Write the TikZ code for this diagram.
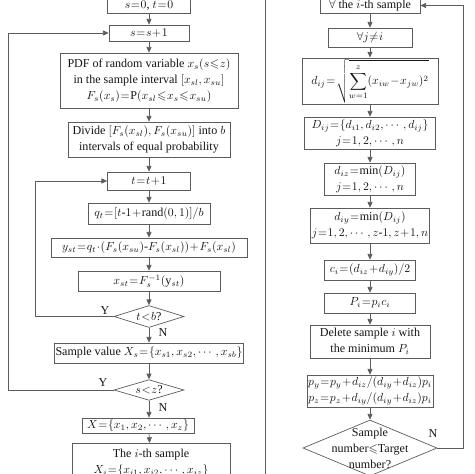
\documentclass[tikz,border=0pt]{standalone}
\usepackage{amsmath}
\usepackage{amssymb}
\usepackage{fontspec}
\setmainfont{Liberation Serif}
\usepackage{tikz}
\usetikzlibrary{arrows.meta,shapes.geometric}
\definecolor{FlowLine}{HTML}{5C5C5C}
\definecolor{FlowInk}{HTML}{151515}
\thickmuskip=1mu plus 1mu
\medmuskip=1mu plus 1mu

\begin{document}
\begin{tikzpicture}[x=0.03cm, y=-0.03cm, font=\fontsize{10.3}{13.6}\selectfont, text=FlowInk,
  box/.style={draw=FlowLine, line width=0.6pt, align=center, inner sep=1pt},
  test/.style={draw=FlowLine, line width=0.6pt, diamond, aspect=3.3, inner sep=0pt, align=center},
  arr/.style={FlowLine, line width=0.6pt, -{Triangle[length=1.7mm,width=1.5mm]}}]
  \useasboundingbox (0,0) rectangle (474,474);
  % left column: sampling of each variable
  \node[box, minimum width=2.49cm, minimum height=0.45cm] (init) at (149,5.5) {$s=0$, $t=0$};
  \node[box, minimum width=2.40cm, minimum height=0.48cm] (sinc) at (149,33) {$s=s+1$};
  \node[box, minimum width=5.34cm, minimum height=1.65cm] (pdf) at (149,80.5)
    {PDF of random variable $x_s(s\leqslant z)$\\in the sample interval $[x_{sl},x_{su}]$\\$F_s(x_s)=\mathrm{P}(x_{sl}\leqslant x_s\leqslant x_{su})$};
  \node[box, minimum width=4.86cm, minimum height=1.05cm] (divide) at (149,139.5)
    {Divide $[F_s(x_{sl}),F_s(x_{su})]$ into $b$\\intervals of equal probability};
  \node[box, minimum width=2.49cm, minimum height=0.54cm] (tinc) at (149,181) {$t=t+1$};
  \node[box, minimum width=3.66cm, minimum height=0.63cm] (qt) at (149,213.5) {$q_t=[t\text{-}1+\mathrm{rand}(0,1)]/b$};
  \node[box, minimum width=5.88cm, minimum height=0.57cm] (yst) at (149,247.5)
    {$y_{st}=q_t\cdot(F_s(x_{su})\text{-}F_s(x_{sl}))+F_s(x_{sl})$};
  \node[box, minimum width=4.26cm, minimum height=0.60cm] (xst) at (149,281) {$x_{st}=F_s^{-1}(\mathrm{y}_{st})$};
  \node[test, minimum width=2.10cm, minimum height=0.66cm] (tlt) at (149,316.5) {$t<b$?};
  \node[box, minimum width=5.46cm, minimum height=0.60cm] (sv) at (149,353)
    {Sample value $X_s=\{x_{s1},x_{s2},\cdots,x_{sb}\}$};
  \node[test, minimum width=2.10cm, minimum height=0.62cm] (slt) at (149,390) {$s<z$?};
  \node[box, minimum width=3.36cm, minimum height=0.45cm] (xall) at (138,425.5) {$X=\{x_1,x_2,\cdots,x_z\}$};
  \node[box, anchor=north, minimum width=4.74cm, inner ysep=5pt] (ith) at (151,443)
    {The $i$-th sample\\$X_i=\{x_{i1},x_{i2},\cdots,x_{iz}\}$};
  \foreach \a/\b in {init/sinc, sinc/pdf, pdf/divide, divide/tinc, tinc/qt, qt/yst, yst/xst, xst/tlt, tlt/sv, sv/slt}
    {\draw[arr] (\a) -- (\b);}
  \draw[arr] (slt.south) -- (slt.south |- xall.north);
  \draw[arr] (slt.south |- xall.south) -- (ith);
  % loops back
  \coordinate (tback) at (35,181);
  \coordinate (sback) at (8,33);
  \draw[arr] (tlt.west) -| (tback) -- (tinc.west);
  \draw[arr] (slt.west) -| (sback) -- (sinc.west);
  \node (ty) at (105,311) {Y};
  \node (tn) at (163,333) {N};
  \node (sy) at (103,383) {Y};
  \node (sn) at (163,408) {N};
  % divider
  \draw[FlowLine, line width=0.6pt] (265,-2) -- (265,476);
  % right column: reduction of samples
  \node[box, minimum width=3.00cm, minimum height=0.48cm] (each) at (370,5.5) {$\forall$ the $i$-th sample};
  \node[box, minimum width=2.52cm, minimum height=0.57cm] (other) at (370,37.5) {$\forall j\neq i$};
  \node[box, minimum width=4.08cm, minimum height=1.14cm] (dist) at (370,81)
    {$\displaystyle d_{ij} = \sqrt{\sum_{w=1}^{z}(x_{iw} - x_{jw})^2}$};
  \node[box, minimum width=3.93cm, minimum height=0.96cm] (dset) at (370,133)
    {$D_{ij}=\{d_{i1},d_{i2},\cdots,d_{ij}\}$\\$j=1,2,\cdots,n$};
  \node[box, minimum width=2.73cm, minimum height=0.96cm] (dmin) at (370,179)
    {$d_{iz}=\min(D_{ij})$\\$j=1,2,\cdots,n$};
  \node[box, minimum width=3.18cm, minimum height=1.05cm] (dnext) at (370,225.5)
    {$d_{iy}=\min(D_{ij})$\\$j=1,2,\cdots,z\text{-}1,z+1,n$};
  \node[box, minimum width=2.73cm, minimum height=0.60cm] (ci) at (370,270) {$c_i=(d_{iz}+d_{iy})/2$};
  \node[box, minimum width=2.73cm, minimum height=0.60cm] (pi) at (370,303) {$P_i=p_ic_i$};
  \node[box, minimum width=3.60cm, minimum height=0.99cm] (del) at (370,341.5)
    {Delete sample $i$ with\\the minimum $P_i$};
  \node[box, minimum width=3.45cm, minimum height=0.96cm] (upd) at (370,391)
    {$p_y=p_y+d_{iz}/(d_{iy}+d_{iz})p_i$\\$p_z=p_z+d_{iy}/(d_{iy}+d_{iz})p_i$};
  \node[test, aspect=2.4, minimum width=4.02cm, minimum height=1.68cm,
    label={[align=center]center:Sample\\number$\leqslant$Target\\number?}] (stop) at (370,448) {};
  \foreach \a/\b in {each/other, other/dist, dist/dset, dset/dmin, dmin/dnext, dnext/ci, ci/pi, pi/del, del/upd, upd/stop}
    {\draw[arr] (\a) -- (\b);}
  \coordinate (nback) at (463,5.5);
  \draw[arr] (stop.east) -| (nback) -- (each.east);
  \node (stopn) at (433,434) {N};
\end{tikzpicture}
\end{document}
